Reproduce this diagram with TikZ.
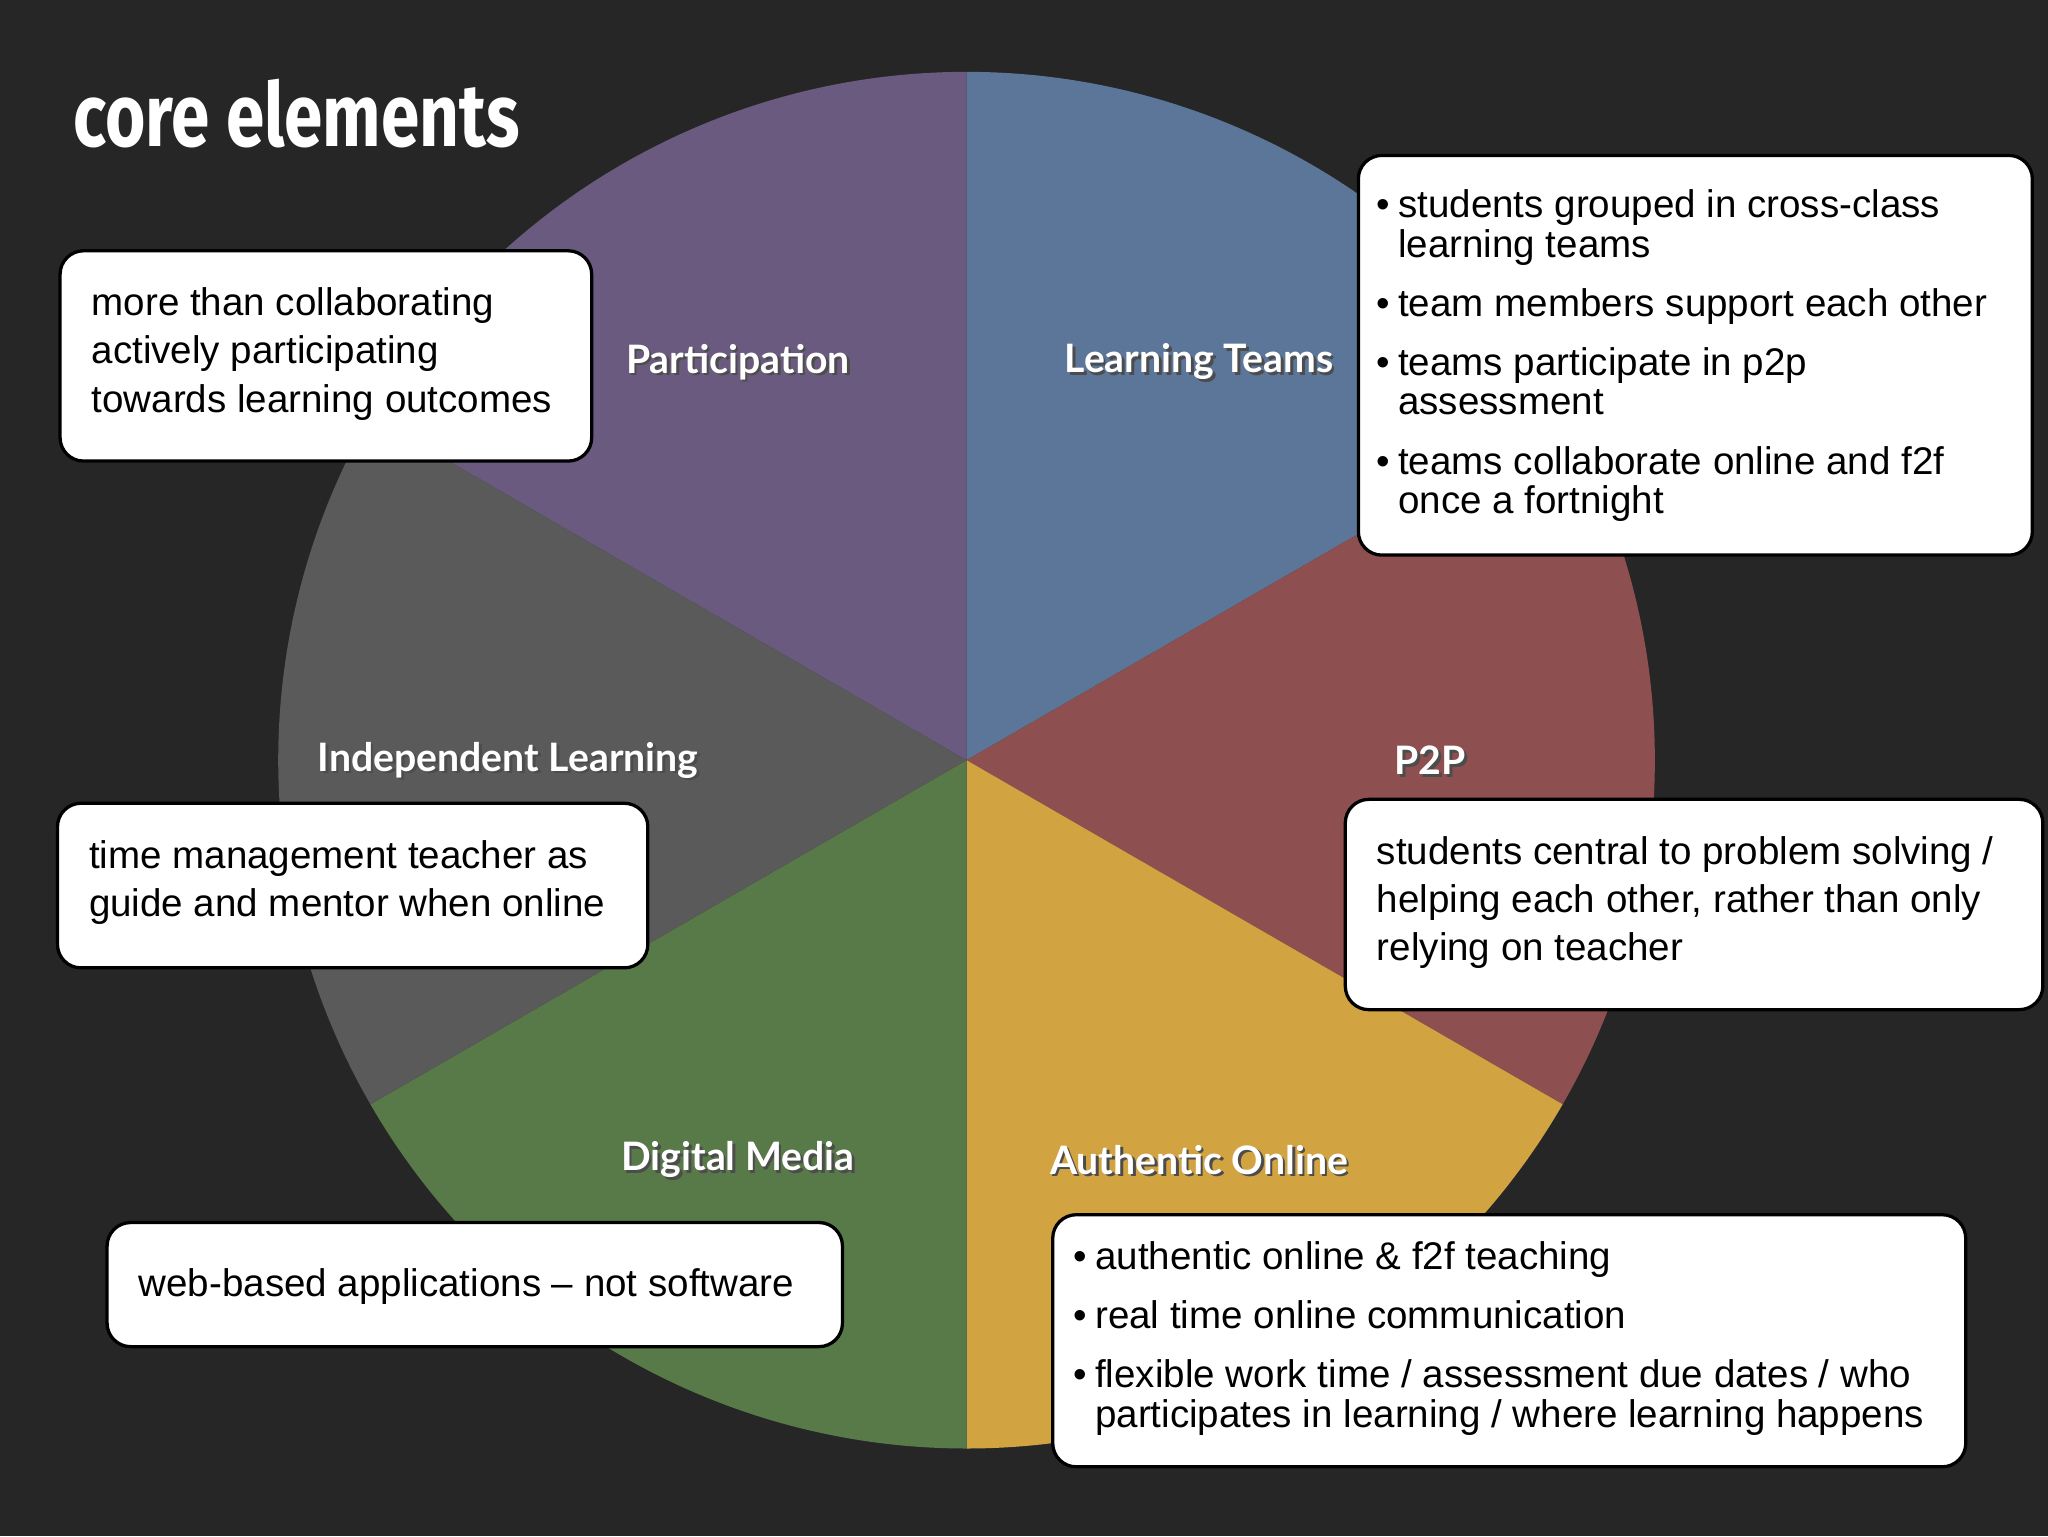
\documentclass[tikz,border=0pt]{standalone}
\usepackage{fontspec}
\setmainfont{Liberation Sans}
\newfontfamily\labfont{Lato}
\newfontfamily\titfont[FakeStretch=0.78]{Fira Sans}
\usetikzlibrary{shadows}
\definecolor{bg}{HTML}{262626}
\definecolor{cpur}{HTML}{6A5A80}
\definecolor{cblu}{HTML}{5B7699}
\definecolor{cred}{HTML}{8E4F50}
\definecolor{cyel}{HTML}{D2A341}
\definecolor{cgrn}{HTML}{587A48}
\definecolor{cgry}{HTML}{5A5A5A}
\tikzset{
 infobox/.style={draw=black,line width=2.5pt,fill=white,rounded corners=18pt},
 seclabel/.style={text=white,font=\labfont\bfseries\fontsize{30}{36}\selectfont,inner sep=0pt}
}
\newcommand{\bl}{\textbullet}
\begin{document}
\begin{tikzpicture}[x=1pt,y=-1pt]
\fill[bg] (0,0) rectangle (1568,1176);
\useasboundingbox (0,0) rectangle (1568,1176);
\coordinate (c) at (740,582);
\def\R{527}
\foreach \a/\b/\col in {90/150/cpur,30/90/cblu,-30/30/cred,-90/-30/cyel,-150/-90/cgrn,150/210/cgry}{
 \fill[\col] (c) -- ++(-\a:\R) arc[start angle=-\a,end angle=-\b,radius=\R] -- cycle;
}
\node[text=white,font=\titfont\bfseries\fontsize{68}{70}\selectfont,anchor=west,inner sep=0pt] (title) at (56,87) {core elements};
\foreach \n/\t/\x/\y in {lp/Participation/565/277,lt/Learning Teams/918/277,li/Independent Learning/389/582,lq/P2P/1095/582,ld/Digital Media/565/888,la/Authentic Online/918/888}{
 \node[seclabel] (\n) at (\x+2,\y+2) {\textcolor{black!70}{\t}};
 \node[seclabel] (\n w) at (\x,\y) {\t};
}
\draw[infobox] (46,192) rectangle (453,353);
\node[anchor=north west,align=left,font=\fontsize{29.5}{37}\selectfont,inner sep=0pt] (bp) at (70,220) {more than collaborating\\actively participating\\towards learning outcomes};
\draw[infobox] (1040,119) rectangle (1556,425);
\node[anchor=north west,inner sep=0pt,font=\fontsize{29.5}{30}\selectfont] (bt) at (1054,145) {\begin{tabular}{@{}l@{\hspace{6pt}}l@{}}
\bl & students grouped in cross-class\\ & learning teams\\[15pt]
\bl & team members support each other\\[15pt]
\bl & teams participate in p2p\\ & assessment\\[15pt]
\bl & teams collaborate online and f2f\\ & once a fortnight\end{tabular}};
\draw[infobox] (44,615) rectangle (496,741);
\node[anchor=north west,align=left,font=\fontsize{29.5}{37}\selectfont,inner sep=0pt] (bi) at (68,643) {time management teacher as\\guide and mentor when online};
\draw[infobox] (1030,612) rectangle (1564,773);
\node[anchor=north west,align=left,font=\fontsize{29.5}{37}\selectfont,inner sep=0pt] (bq) at (1054,640) {students central to problem solving /\\helping each other, rather than only\\relying on teacher};
\draw[infobox] (82,936) rectangle (645,1031);
\node[anchor=west,font=\fontsize{29.5}{37}\selectfont,inner sep=0pt] (bd) at (106,985) {web-based applications -- not software};
\draw[infobox] (806,930) rectangle (1505,1123);
\node[anchor=north west,inner sep=0pt,font=\fontsize{29.5}{30}\selectfont] (ba) at (822,950) {\begin{tabular}{@{}l@{\hspace{6pt}}l@{}}
\bl & authentic online \& f2f teaching\\[15pt]
\bl & real time online communication\\[15pt]
\bl & flexible work time / assessment due dates / who\\ & participates in learning / where learning happens\end{tabular}};
\end{tikzpicture}
\end{document}
